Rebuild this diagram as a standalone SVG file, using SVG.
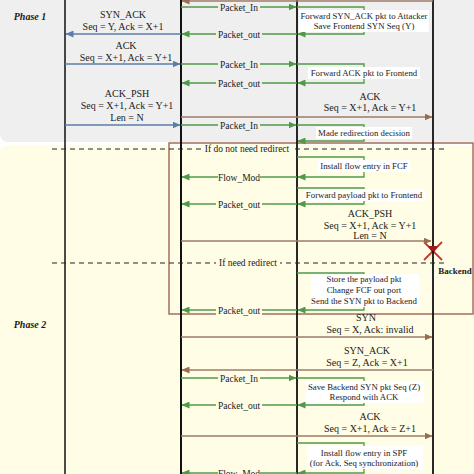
<svg xmlns="http://www.w3.org/2000/svg" width="474" height="474" viewBox="0 0 474 474">
<defs>
<marker id="ag" markerWidth="8" markerHeight="7" refX="7.5" refY="3.5" orient="auto" markerUnits="userSpaceOnUse"><path d="M0,0 L8,3.5 L0,7 z" fill="#4f9a48"/></marker>
<marker id="ab" markerWidth="8" markerHeight="7" refX="7.5" refY="3.5" orient="auto" markerUnits="userSpaceOnUse"><path d="M0,0 L8,3.5 L0,7 z" fill="#5a7eac"/></marker>
<marker id="ar" markerWidth="8" markerHeight="7" refX="7.5" refY="3.5" orient="auto" markerUnits="userSpaceOnUse"><path d="M0,0 L8,3.5 L0,7 z" fill="#9a6d50"/></marker>
</defs>
<style>
text{font-family:"Liberation Serif","Times New Roman",serif;fill:#1a1a1a}
.m{font-size:10px;text-anchor:middle}
.p{font-size:9.5px;text-anchor:middle}
.n{font-size:8.8px;text-anchor:middle}
.ph{font-size:10px;font-weight:bold;font-style:italic;text-anchor:middle}
.g{stroke:#4f9a48;stroke-width:1.3;fill:none}
.b{stroke:#5a7eac;stroke-width:1.3;fill:none}
.r{stroke:#9c7b66;stroke-width:1.3;fill:none}
.life{stroke:#111;stroke-width:1.8}
.dash{stroke:#222;stroke-width:1;stroke-dasharray:5,4}
.nb{fill:#fff}
.gbg{fill:#efefef}
.ybg{fill:#fffde5}
</style>
<rect x="0" y="-10" width="484" height="152" rx="8" fill="#efefef"/>
<rect x="0" y="145" width="484" height="340" rx="8" fill="#fffde5"/>
<g id="alt-frame"><rect x="169" y="143" width="304" height="171" fill="none" stroke="#a36f5f" stroke-width="1.5"/></g>
<text class="ph" x="30" y="20">Phase 1</text>
<text class="ph" x="30" y="328">Phase 2</text>
<g id="attacker"><line class="life" x1="65" y1="0" x2="65" y2="474" style="stroke-width:1.5"/></g>
<g id="switch"><line class="life" x1="181" y1="0" x2="181" y2="474" style="stroke-width:2"/></g>
<g id="controller"><line class="life" x1="297" y1="0" x2="297" y2="474"/></g>
<g id="frontend"><line class="life" x1="433" y1="0" x2="433" y2="251"/>
<line x1="424" y1="242" x2="442" y2="260" stroke="#c0392b" stroke-width="1.8"/>
<line x1="442" y1="242" x2="424" y2="260" stroke="#c0392b" stroke-width="1.8"/>
<polygon points="428,246 438,246 433,254" fill="#a01818"/></g>
<g id="backend"><line class="life" x1="433" y1="251" x2="433" y2="474"/>
<text x="455" y="274" style="font-size:9px;font-weight:bold;text-anchor:middle">Backend</text></g>
<g id="connectors">
<line class="r" x1="433" y1="1" x2="182" y2="1" marker-end="url(#ar)"/>
<line class="dash" x1="52" y1="149" x2="447" y2="149"/>
<rect class="ybg" x="203" y="144" width="88" height="11"/>
<text class="p" x="247" y="152">If do not need redirect</text>
<line class="dash" x1="52" y1="263" x2="447" y2="263"/>
<rect class="ybg" x="216" y="258" width="64" height="11"/>
<text class="p" x="248" y="266">If need redirect</text>
<line class="b" x1="181" y1="34" x2="66" y2="34" marker-end="url(#ab)"/>
<text class="m" x="123" y="17.5">SYN_ACK</text>
<text class="m" x="123" y="29.5">Seq = Y, Ack = X+1</text>
<line class="b" x1="65" y1="64" x2="180" y2="64" marker-end="url(#ab)"/>
<text class="m" x="126" y="48.5">ACK</text>
<text class="m" x="126" y="61">Seq = X+1, Ack = Y+1</text>
<line class="b" x1="65" y1="125" x2="180" y2="125" marker-end="url(#ab)"/>
<text class="m" x="127" y="96.5">ACK_PSH</text>
<text class="m" x="127" y="108.5">Seq = X+1, Ack = Y+1</text>
<text class="m" x="127" y="120.5">Len = N</text>
<line class="g" x1="181" y1="7" x2="296" y2="7" marker-end="url(#ag)"/>
<rect class="gbg" x="218" y="2" width="42" height="10"/>
<text class="p" x="239" y="10.5">Packet_In</text>
<path class="g" d="M297,7 H364 V34 H298" marker-end="url(#ag)"/>
<line class="g" x1="297" y1="34" x2="182" y2="34" marker-end="url(#ag)"/>
<rect class="gbg" x="216" y="29" width="46" height="10"/>
<text class="p" x="239" y="37.5">Packet_out</text>
<line class="g" x1="181" y1="64" x2="296" y2="64" marker-end="url(#ag)"/>
<rect class="gbg" x="218" y="59" width="42" height="10"/>
<text class="p" x="239" y="67.5">Packet_In</text>
<path class="g" d="M297,64 H364 V83 H298" marker-end="url(#ag)"/>
<line class="g" x1="297" y1="83" x2="182" y2="83" marker-end="url(#ag)"/>
<rect class="gbg" x="216" y="78" width="46" height="10"/>
<text class="p" x="239" y="86.5">Packet_out</text>
<line class="r" x1="181" y1="117" x2="432" y2="117" marker-end="url(#ar)"/>
<text class="m" x="370" y="99.5">ACK</text>
<text class="m" x="370" y="110.5">Seq = X+1, Ack = Y+1</text>
<line class="g" x1="181" y1="125" x2="296" y2="125" marker-end="url(#ag)"/>
<rect class="gbg" x="218" y="120" width="42" height="10"/>
<text class="p" x="239" y="128.5">Packet_In</text>
<path class="g" d="M297,125 H364 V141 H298" marker-end="url(#ag)"/>
<path class="g" d="M297,157 H364 V177 H298" marker-end="url(#ag)"/>
<line class="g" x1="297" y1="177" x2="182" y2="177" marker-end="url(#ag)"/>
<rect class="ybg" x="218" y="172" width="42" height="10"/>
<text class="p" x="239" y="180.5">Flow_Mod</text>
<path class="g" d="M297,188 H364 V204 H298" marker-end="url(#ag)"/>
<line class="g" x1="297" y1="204" x2="182" y2="204" marker-end="url(#ag)"/>
<rect class="ybg" x="216" y="199" width="46" height="10"/>
<text class="p" x="239" y="207.5">Packet_out</text>
<line class="r" x1="181" y1="241" x2="431" y2="241" marker-end="url(#ar)"/>
<text class="m" x="370" y="216.5">ACK_PSH</text>
<text class="m" x="370" y="228.5">Seq = X+1, Ack = Y+1</text>
<text class="m" x="370" y="239">Len = N</text>
<path class="g" d="M297,273 H364 V310 H298" marker-end="url(#ag)"/>
<line class="g" x1="297" y1="310" x2="182" y2="310" marker-end="url(#ag)"/>
<rect class="ybg" x="216" y="305" width="46" height="10"/>
<text class="p" x="239" y="313.5">Packet_out</text>
<line class="r" x1="181" y1="337" x2="432" y2="337" marker-end="url(#ar)"/>
<text class="m" x="366" y="320.5">SYN</text>
<text class="m" x="370" y="332.5">Seq = X, Ack: invalid</text>
<line class="r" x1="433" y1="370" x2="182" y2="370" marker-end="url(#ar)"/>
<text class="m" x="367" y="353.5">SYN_ACK</text>
<text class="m" x="367" y="365.5">Seq = Z, Ack = X+1</text>
<line class="g" x1="181" y1="378" x2="296" y2="378" marker-end="url(#ag)"/>
<rect class="ybg" x="218" y="373" width="42" height="10"/>
<text class="p" x="239" y="381.5">Packet_In</text>
<path class="g" d="M297,378 H364 V405 H298" marker-end="url(#ag)"/>
<line class="g" x1="297" y1="405" x2="182" y2="405" marker-end="url(#ag)"/>
<rect class="ybg" x="216" y="400" width="46" height="10"/>
<text class="p" x="239" y="408.5">Packet_out</text>
<line class="r" x1="181" y1="436" x2="432" y2="436" marker-end="url(#ar)"/>
<text class="m" x="370" y="419.5">ACK</text>
<text class="m" x="370" y="431.5">Seq = X+1, Ack = Z+1</text>
<path class="g" d="M297,443 H364 V473 H298" marker-end="url(#ag)"/>
<line class="g" x1="297" y1="473" x2="182" y2="473" marker-end="url(#ag)"/>
<rect class="ybg" x="218" y="468" width="42" height="10"/>
<text class="p" x="239" y="476.5">Flow_Mod</text>
</g>
<g id="note-forward-synack"><rect class="nb" x="299" y="10" width="130" height="22"/>
<text class="n" x="364" y="19">Forward SYN_ACK pkt to Attacker</text>
<text class="n" x="364" y="29">Save Frontend SYN Seq (Y)</text></g>
<g id="note-forward-ack"><rect class="nb" x="308" y="67" width="112" height="12"/>
<text class="n" x="364" y="76">Forward ACK pkt to Frontend</text></g>
<g id="note-decision"><rect class="nb" x="316" y="127" width="96" height="12"/>
<text class="n" x="364" y="135.5">Made redirection decision</text></g>
<g id="note-install-fcf"><rect class="nb" x="318" y="160" width="92" height="12"/>
<text class="n" x="364" y="169">Install flow entry in FCF</text></g>
<g id="note-forward-payload"><rect class="nb" x="303" y="189" width="122" height="12"/>
<text class="n" x="364" y="198">Forward payload pkt to Frontend</text></g>
<g id="note-store"><rect class="nb" x="311" y="274" width="108" height="33"/>
<text class="n" x="364" y="281.5">Store the payload pkt</text>
<text class="n" x="364" y="293">Change FCF out port</text>
<text class="n" x="364" y="304">Send the SYN pkt to Backend</text></g>
<g id="note-save-backend"><rect class="nb" x="306" y="381" width="118" height="22"/>
<text class="n" x="364" y="390">Save Backend SYN pkt Seq (Z)</text>
<text class="n" x="364" y="400">Respond with ACK</text></g>
<g id="note-install-spf"><rect class="nb" x="307" y="446" width="116" height="23"/>
<text class="n" x="364" y="455.5">Install flow entry in SPF</text>
<text class="n" x="364" y="466">(for Ack, Seq synchronization)</text></g>
</svg>
